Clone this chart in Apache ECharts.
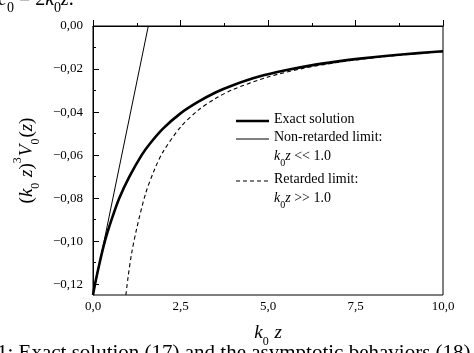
<!DOCTYPE html>
<html lang="en">
<head>
    <meta charset="UTF-8">
    <title>Exact solution and asymptotic limits</title>
    <script type="text/javascript" src="https://cdn.jsdelivr.net/npm/echarts@6/dist/echarts.min.js"></script>
    <style>
        html, body { margin: 0; padding: 0; background: #fff; }
        #chart { width: 474px; height: 353px; }
    </style>
</head>
<body>
<div id="chart"></div>
<script type="text/javascript">
    // k0 z values and (k0 z)^3 V0(z)
    var exactX = [0, 0.07, 0.19, 0.34, 0.53, 0.75, 1.04, 1.39, 1.63, 2.0, 2.5, 3.0, 3.5, 4.0, 4.77, 5.5, 6.2, 7.0, 7.63, 8.5, 9.3, 10];
    var exactY = [-0.125, -0.119, -0.110, -0.100, -0.090, -0.080, -0.070, -0.060, -0.0546, -0.0477, -0.0406, -0.0353, -0.0309, -0.0275, -0.0234, -0.0206, -0.0184, -0.01645, -0.01517, -0.01371, -0.01259, -0.01175];
    var nonRetX = [0, 1.58];
    var nonRetY = [-0.125, 0];
    var retX = [0.94, 1.0, 1.1, 1.25, 1.5, 1.75, 2.0, 2.5, 3.0, 3.5, 4.0, 5.0, 6.0, 7.0, 8.0, 9.0, 10.0];
    var retY = [-0.125, -0.117, -0.106, -0.094, -0.078, -0.067, -0.0585, -0.047, -0.0392, -0.0337, -0.0295, -0.0237, -0.0197, -0.0169, -0.0148, -0.0132, -0.0119];
    var yMajor = [0, -0.02, -0.04, -0.06, -0.08, -0.10, -0.12];
    var yMinor = [-0.01, -0.03, -0.05, -0.07, -0.09, -0.11];

    function pairs(xs, ys) {
        return xs.map(function (x, i) { return [x, ys[i]]; });
    }
    function comma(v, d) {
        var s = Math.abs(v).toFixed(d).replace('.', ',');
        return (v < -1e-9 ? '\u2212' : '') + s;
    }

    var serif = 'Liberation Serif';
    var subRich = {
        i: { fontFamily: serif, fontStyle: 'italic', fontSize: 19, color: '#000', lineHeight: 26 },
        n: { fontFamily: serif, fontSize: 19, color: '#000', lineHeight: 26 },
        sub: { fontFamily: serif, fontSize: 12, color: '#000', verticalAlign: 'bottom', lineHeight: 12, padding: [0, 1, -2, 0] },
        sup: { fontFamily: serif, fontSize: 12, color: '#000', verticalAlign: 'top', lineHeight: 12, padding: [-2, 1, 0, 0] }
    };
    var legRich = {
        i: { fontFamily: serif, fontStyle: 'italic', fontSize: 14, color: '#000', lineHeight: 18 },
        n: { fontFamily: serif, fontSize: 14, color: '#000', lineHeight: 18 },
        s: { fontFamily: serif, fontSize: 10, color: '#000', verticalAlign: 'bottom', lineHeight: 10, padding: [0, 0, -3, 0] }
    };
    var capRich = {
        i: { fontFamily: serif, fontStyle: 'italic', fontSize: 20, color: '#000', lineHeight: 24 },
        n: { fontFamily: serif, fontSize: 20, color: '#000', lineHeight: 24 },
        s: { fontFamily: serif, fontSize: 14, color: '#000', verticalAlign: 'bottom', lineHeight: 14, padding: [0, 0, -3, 0] }
    };

    var option = {
        animation: false,
        backgroundColor: '#fff',
        grid: {
            left: 93, right: 31, top: 26, bottom: 58,
            show: true, borderColor: '#000', borderWidth: 1
        },
        xAxis: {
            type: 'value', min: 0, max: 10, interval: 2.5,
            name: '{i|k}{sub|0}{i| z}',
            nameLocation: 'middle', nameGap: 25,
            nameTextStyle: { rich: subRich },
            axisLine: { lineStyle: { color: '#000', width: 1 } },
            axisTick: { inside: true, length: 6, lineStyle: { color: '#000' } },
            minorTick: { show: true, splitNumber: 2, length: 3, lineStyle: { color: '#000' } },
            splitLine: { show: false },
            axisLabel: {
                fontFamily: serif, fontSize: 13, color: '#000', margin: 5,
                formatter: function (v) { return comma(v, 1); }
            }
        },
        yAxis: [{
            type: 'value', min: -0.125, max: 0,
            name: '{n|(}{i|k}{sub|0}{i| z}{n|)}{sup|3}{i|V}{sub|0}{n|(}{i|z}{n|)}',
            nameLocation: 'middle', nameGap: 52, nameRotate: 90,
            nameTextStyle: { rich: subRich },
            axisLine: { show: true, lineStyle: { color: '#000', width: 1 } },
            axisTick: { inside: true, length: 6, customValues: yMajor, lineStyle: { color: '#000' } },
            splitLine: { show: false },
            axisLabel: {
                fontFamily: serif, fontSize: 13, color: '#000', margin: 10,
                customValues: yMajor,
                formatter: function (v) { return comma(v, 2); }
            }
        }, {
            type: 'value', min: -0.125, max: 0, position: 'left',
            axisLine: { show: false },
            axisTick: { inside: true, length: 3, customValues: yMinor, lineStyle: { color: '#000' } },
            axisLabel: { show: false },
            splitLine: { show: false }
        }],
        series: [{
            name: 'Exact solution', type: 'line', smooth: 0.3, showSymbol: false,
            data: pairs(exactX, exactY),
            lineStyle: { color: '#000', width: 2.6 }
        }, {
            name: 'Non-retarded limit', type: 'line', showSymbol: false,
            data: pairs(nonRetX, nonRetY),
            lineStyle: { color: '#000', width: 1 }
        }, {
            name: 'Retarded limit', type: 'line', smooth: 0.3, showSymbol: false,
            data: pairs(retX, retY),
            lineStyle: { color: '#000', width: 1.1, type: [4, 3] }
        }],
        graphic: [
            // legend
            { type: 'line', shape: { x1: 236, y1: 121, x2: 269, y2: 121 }, style: { stroke: '#000', lineWidth: 2.6 } },
            { type: 'text', left: 274, top: 112, style: { text: '{n|Exact solution}', rich: legRich } },
            { type: 'line', shape: { x1: 236, y1: 139, x2: 269, y2: 139 }, style: { stroke: '#000', lineWidth: 1 } },
            { type: 'text', left: 274, top: 130, style: { text: '{n|Non-retarded limit:}', rich: legRich } },
            { type: 'text', left: 274, top: 149, style: { text: '{i|k}{s|0}{i|z}{n| << 1.0}', rich: legRich } },
            { type: 'line', shape: { x1: 236, y1: 181, x2: 269, y2: 181 }, style: { stroke: '#000', lineWidth: 1.1, lineDash: [4, 3] } },
            { type: 'text', left: 274, top: 172, style: { text: '{n|Retarded limit:}', rich: legRich } },
            { type: 'text', left: 274, top: 191, style: { text: '{i|k}{s|0}{i|z}{n| >> 1.0}', rich: legRich } },
            // surrounding page text
            { type: 'text', left: -2, top: -10, style: { text: '{i|c}{s|0}{n| = 2}{i|k}{s|0}{i|z}{n|.}', rich: capRich } },
            { type: 'text', x: -3, y: 343, style: {
                text: '1: Exact solution (17) and the asymptotic behaviors (18) and (19)',
                fontFamily: serif, fontSize: 21, fill: '#000'
            } }
        ]
    };

    var myChart = echarts.init(document.getElementById('chart'), null, { renderer: 'canvas' });
    myChart.setOption(option);
</script>
</body>
</html>
